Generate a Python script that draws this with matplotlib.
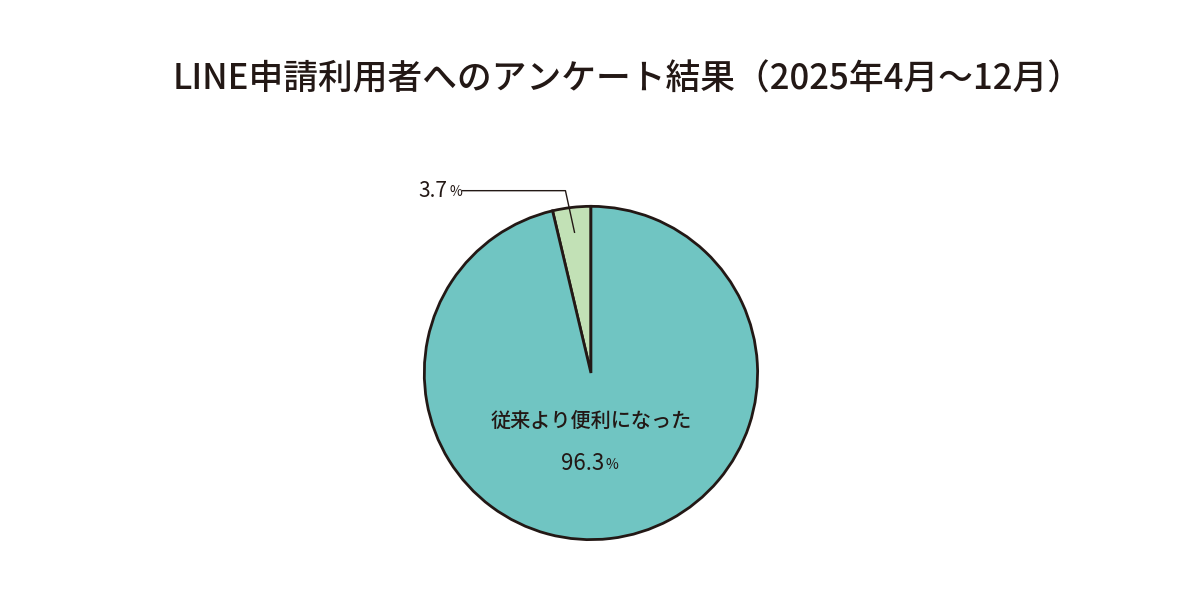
import matplotlib
matplotlib.use("Agg")
import matplotlib.pyplot as plt
import numpy as np

plt.rcParams['font.family'] = ['Noto Sans CJK JP', 'DejaVu Sans']

title = "LINE申請利用者へのアンケート結果（2025年4月〜12月）"
labels = ["その他", "従来より便利になった"]
values = [3.7, 96.3]
colors = ["#C2E1B6", "#70C5C2"]
edge = "#231815"

fig = plt.figure(figsize=(12, 6.05), dpi=100)
fig.text(0.523, 0.868, title, ha='center', va='center', fontsize=25,
         weight='medium', color=edge)

ax = fig.add_axes([0.4925 - 0.1417, 0.3835 - 0.281, 0.2833, 0.562])
ax.pie(values, colors=colors, startangle=90, counterclock=True,
       wedgeprops=dict(edgecolor=edge, linewidth=2))
ax.set_xlim(-1.02, 1.02); ax.set_ylim(-1.02, 1.02)
ax.set_aspect('equal')
ax.axis('off')

# small slice leader
mid = np.deg2rad(90 + values[0] / 100 * 180)
px, py = 0.85 * np.cos(mid), 0.85 * np.sin(mid)
ex, ey = -0.153, 1.094
ax.plot([px, ex, -0.77], [py, ey, ey], color=edge, lw=1, clip_on=False)
ax.text(-0.86, ey, f"{values[0]:.1f}", ha='right', va='center', fontsize=15, color=edge)
ax.text(-0.85, ey - 0.01, "%", ha='left', va='center', fontsize=10, color=edge)

# big slice labels
ax.text(0.0, -0.29, labels[1], ha='center', va='center', fontsize=14.5,
        weight='medium', color=edge)
ax.text(0.08, -0.545, f"{values[1]:.1f}", ha='right', va='center', fontsize=16, color=edge)
ax.text(0.09, -0.555, "%", ha='left', va='center', fontsize=10, color=edge)

fig.savefig("out.png", dpi=100)
